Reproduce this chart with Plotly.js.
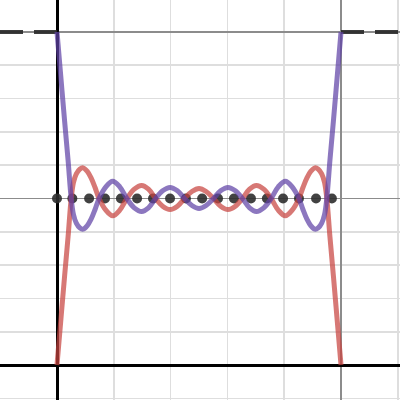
<!DOCTYPE html>
<html>
<head>
<meta charset="utf-8">
<script src="https://cdn.plot.ly/plotly-3.0.1.min.js"></script>
<style>
  html, body { margin: 0; padding: 0; background: #fff; }
  #grafica { width: 400px; height: 400px; }
</style>
</head>
<body>
<div id="grafica"></div>
<script>
// Datos (unidades de los ejes)

// puntos negros sobre y = 0.5
let puntosX = [0, 0.054, 0.113, 0.169, 0.225, 0.282, 0.338, 0.398, 0.454,
               0.511, 0.567, 0.623, 0.683, 0.739, 0.796, 0.852, 0.912, 0.968];
let puntosY = [0.5, 0.5, 0.5, 0.5, 0.5, 0.5, 0.5, 0.5, 0.5,
               0.5, 0.5, 0.5, 0.5, 0.5, 0.5, 0.5, 0.5, 0.5];

// curva roja
let curvaX = [0, 0.013, 0.026, 0.039, 0.05, 0.058, 0.068, 0.08, 0.092, 0.106, 0.12, 0.134,
              0.148, 0.172, 0.196, 0.221, 0.246, 0.272, 0.298, 0.322, 0.347, 0.372, 0.398,
              0.424, 0.449, 0.475, 0.5, 0.525, 0.551, 0.576, 0.602, 0.628, 0.653, 0.678,
              0.702, 0.728, 0.754, 0.779, 0.804, 0.828, 0.852, 0.866, 0.88, 0.894, 0.908,
              0.92, 0.932, 0.942, 0.95, 0.961, 0.974, 0.987, 1];
let rojaY = [0, 0.13, 0.26, 0.385, 0.5, 0.548, 0.574, 0.588, 0.592, 0.582, 0.562, 0.533,
             0.5, 0.465, 0.448, 0.465, 0.5, 0.528, 0.539, 0.528, 0.5, 0.477, 0.467,
             0.477, 0.5, 0.521, 0.53, 0.521, 0.5, 0.477, 0.467, 0.477, 0.5, 0.528,
             0.539, 0.528, 0.5, 0.465, 0.448, 0.465, 0.5, 0.533, 0.562, 0.582, 0.592,
             0.588, 0.574, 0.548, 0.5, 0.385, 0.26, 0.13, 0];

// curva morada
let moradaY = [1, 0.87, 0.74, 0.615, 0.5, 0.452, 0.426, 0.412, 0.408, 0.418, 0.438, 0.467,
               0.5, 0.535, 0.552, 0.535, 0.5, 0.472, 0.461, 0.472, 0.5, 0.523, 0.533,
               0.523, 0.5, 0.479, 0.47, 0.479, 0.5, 0.523, 0.533, 0.523, 0.5, 0.472,
               0.461, 0.472, 0.5, 0.535, 0.552, 0.535, 0.5, 0.467, 0.438, 0.418, 0.408,
               0.412, 0.426, 0.452, 0.5, 0.615, 0.74, 0.87, 1];

// tramos discontinuos y = 1 fuera de [0, 1]
let guionIzqX = [0, -0.25];
let guionDerX = [1, 1.25];
let guionY = [1, 1];


let trazas = [
  {
    x: guionIzqX, y: guionY, mode: 'lines',
    line: { color: 'rgba(40,40,40,0.9)', width: 4, dash: '23px,11px' }
  },
  {
    x: guionDerX, y: guionY, mode: 'lines',
    line: { color: 'rgba(40,40,40,0.9)', width: 4, dash: '23px,11px' }
  },
  {
    x: puntosX, y: puntosY, mode: 'markers',
    marker: { color: 'rgba(45,45,45,0.9)', size: 10 }
  },
  {
    x: curvaX, y: rojaY, mode: 'lines',
    line: { color: 'rgba(199,68,64,0.72)', width: 5, shape: 'spline', smoothing: 1 }
  },
  {
    x: curvaX, y: moradaY, mode: 'lines',
    line: { color: 'rgba(96,66,166,0.72)', width: 5, shape: 'spline', smoothing: 1 }
  }
];

let layout = {
  width: 400,
  height: 400,
  margin: { l: 0, r: 0, t: 0, b: 0 },
  paper_bgcolor: '#fff',
  plot_bgcolor: '#fff',
  showlegend: false,
  hovermode: false,
  xaxis: {
    range: [-0.2007, 1.2077],
    tick0: 0, dtick: 1,
    showticklabels: false, ticks: '',
    showgrid: true, gridcolor: '#8c8c8c', gridwidth: 1.8,
    minor: { dtick: 0.2, showgrid: true, gridcolor: '#dedede', gridwidth: 1.6 },
    zeroline: true, zerolinecolor: '#000', zerolinewidth: 3,
    showline: false, fixedrange: true
  },
  yaxis: {
    range: [-0.105, 1.096],
    tick0: 0, dtick: 0.5,
    showticklabels: false, ticks: '',
    showgrid: true, gridcolor: '#8c8c8c', gridwidth: 1.8,
    minor: { dtick: 0.1, showgrid: true, gridcolor: '#dedede', gridwidth: 1.6 },
    zeroline: true, zerolinecolor: '#000', zerolinewidth: 3,
    showline: false, fixedrange: true
  }
};

Plotly.newPlot('grafica', trazas, layout, { displayModeBar: false, staticPlot: true });
</script>
</body>
</html>
